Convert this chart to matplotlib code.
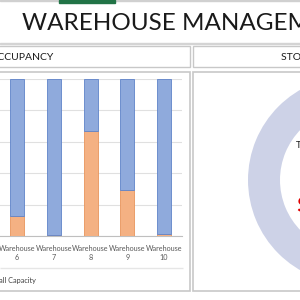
import numpy as np
import matplotlib.pyplot as plt
from matplotlib.patches import Rectangle

plt.rcParams['font.family'] = ['Lato', 'DejaVu Sans']

warehouses = ['Warehouse\n6', 'Warehouse\n7', 'Warehouse\n8', 'Warehouse\n9', 'Warehouse\n10']
occupied = [0.13, 0.005, 0.67, 0.29, 0.015]
capacity = [1.0, 1.0, 1.0, 1.0, 1.0]
stock_share = [1.0]

W, H = 300, 300


def box(x0, y0, x1, y1):
    # pixel coords from top-left -> figure fraction rect
    return [x0 / W, 1 - y1 / H, (x1 - x0) / W, (y1 - y0) / H]


def frame(x0, y0, x1, y1, **kw):
    r = box(x0, y0, x1, y1)
    fig.add_artist(Rectangle((r[0], r[1]), r[2], r[3], transform=fig.transFigure, zorder=-1, **kw))


fig = plt.figure(figsize=(3, 3), dpi=100)
fig.patch.set_facecolor('white')

# top strip and title
frame(0, 0, 300, 1, color='#d0d0d0')
frame(59, 0, 115, 3, color='#217346')
fig.text(22 / W, 1 - 24 / H, 'WAREHOUSE MANAGEMENT', fontsize=17.5, color='#1a1a1a', va='center', ha='left')
frame(0, 42.5, 300, 43.5, color='#d4d4d4')

# panel headers
for x0, x1 in [(-5, 190), (193, 305)]:
    frame(x0, 46, x1, 67, facecolor='white', edgecolor='#c8c8c8', lw=1)
fig.text(54 / W, 1 - 58 / H, 'OCCUPANCY', fontsize=7.5, ha='right', va='center', color='#1a1a1a')
fig.text(281 / W, 1 - 58 / H, 'STOCK VALUE', fontsize=7.5, ha='left', va='center', color='#1a1a1a')

# panel frames
for x0, x1 in [(-5, 190), (193, 305)]:
    frame(x0, 72, x1, 291, facecolor='white', edgecolor='#c8c8c8', lw=1.2)

# occupancy bars
ax = fig.add_axes(box(0, 79, 182.4, 236))
x = np.arange(len(warehouses))
remaining = [c - o for c, o in zip(capacity, occupied)]
ax.bar(x, occupied, width=0.38, color='#f4b183', edgecolor='#e8955c', lw=0.6, zorder=3)
ax.bar(x, remaining, bottom=occupied, width=0.38, color='#8faadc', edgecolor='#5f83c9', lw=0.6, zorder=3)
ax.set_xlim(-0.463, 4.5)
ax.set_ylim(0, 1)
ax.set_yticks(np.arange(0, 1.01, 0.2))
ax.yaxis.grid(True, color='#e0e0e0', lw=0.8, zorder=0)
ax.set_yticklabels([])
ax.tick_params(left=False, bottom=False, labelsize=5.2, labelcolor='#595959', pad=3)
ax.set_xticks(x)
ax.set_xticklabels(warehouses, linespacing=1.35)
for s in ['top', 'right', 'left']:
    ax.spines[s].set_visible(False)
ax.spines['bottom'].set_color('#bfbfbf')
ax.spines['bottom'].set_linewidth(0.8)
ax.patch.set_alpha(0)

# legend area
frame(0, 267.5, 183, 268.3, color='#e6e6e6')
fig.text(36 / W, 1 - 281 / H, 'Overall Capacity', fontsize=5.2, ha='right', va='center', color='#404040')

# stock value ring
ax2 = fig.add_axes(box(248, 76, 456, 284))
ax2.pie(stock_share, radius=1, colors=['#cdd2e7'], startangle=90,
        wedgeprops=dict(width=32 / 104, edgecolor='none'))
ax2.set_xlim(-1, 1)
ax2.set_ylim(-1, 1)
ax2.set_aspect('equal')
ax2.axis('off')
fig.text(296 / W, 1 - 141 / H, 'TOTAL', fontsize=7, ha='left', va='top', color='#1a1a1a')
fig.text(296 / W, 1 - 205 / H, '$1,250', fontsize=15, ha='left', va='center', color='#e00000',
         fontweight='bold')

fig.savefig('out.png', dpi=100)
